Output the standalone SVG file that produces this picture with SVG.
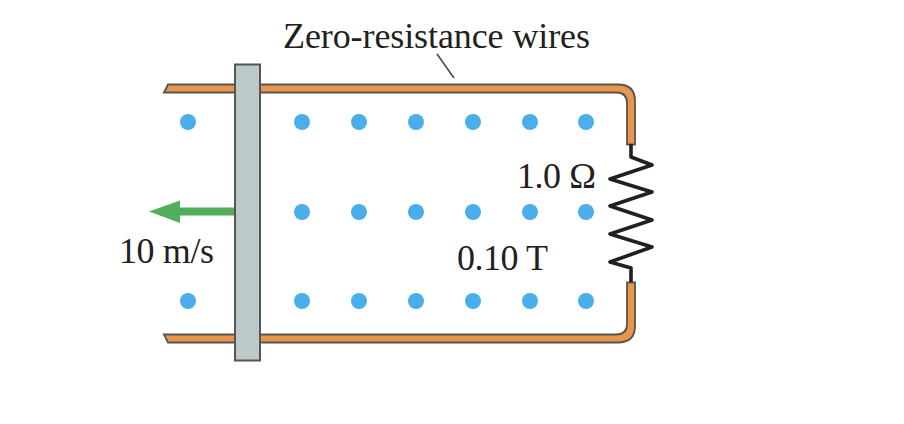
<svg xmlns="http://www.w3.org/2000/svg" width="904" height="424" viewBox="0 0 904 424">
<style>
text{font-family:"Liberation Serif","Times New Roman",serif;font-size:36px;fill:#231f20}
.dot{fill:#4aaeea}
.wire{fill:#e8964a;stroke:#555;stroke-width:1.8}
</style>
<defs><circle id="d" r="8" class="dot"/></defs>
<rect width="904" height="424" fill="#fff"/>
<g id="wires">
<path class="wire" d="M164 92.500L168 84.500H618Q635 84.500 635 101V144.500H627V103Q627 92.500 616 92.500Z"/>
<path class="wire" d="M164 334.500L168 342.500H618Q635 342.500 635 326V282.500H627V324Q627 334.500 616 334.500Z"/>
</g>
<g id="connectors">
<path d="M631 144V157L652 165L610 179L652 192L610 206L652 220L610 234L652 247L610 262L631 268V282" fill="none" stroke="#231f20" stroke-width="3.600" stroke-linejoin="round"/>
<path d="M437 54L454 78" fill="none" stroke="#444" stroke-width="1.500"/>
<path d="M149 211.500L180 200.500V207.500H236V215.500H180V223Z" fill="#53ae5b"/>
</g>
<g id="bar"><rect x="235" y="64.500" width="25" height="296" fill="#bbc9c9" stroke="#555" stroke-width="2"/></g>
<g id="field">
<use href="#d" x="188" y="122"/><use href="#d" x="302" y="122"/><use href="#d" x="359" y="122"/><use href="#d" x="416" y="122"/><use href="#d" x="473" y="122"/><use href="#d" x="530" y="122"/><use href="#d" x="586" y="122"/>
<use href="#d" x="302" y="212"/><use href="#d" x="359" y="212"/><use href="#d" x="416" y="212"/><use href="#d" x="473" y="212"/><use href="#d" x="530" y="212"/><use href="#d" x="586" y="212"/>
<use href="#d" x="188" y="301"/><use href="#d" x="302" y="301"/><use href="#d" x="359" y="301"/><use href="#d" x="416" y="301"/><use href="#d" x="473" y="301"/><use href="#d" x="530" y="301"/><use href="#d" x="586" y="301"/>
</g>
<g id="labels">
<text x="283" y="48" textLength="307">Zero-resistance wires</text>
<text x="517" y="188" textLength="79">1.0 Ω</text>
<text x="119" y="263" textLength="95">10 m/s</text>
<text x="457" y="270" textLength="91">0.10 T</text>
</g>
</svg>
